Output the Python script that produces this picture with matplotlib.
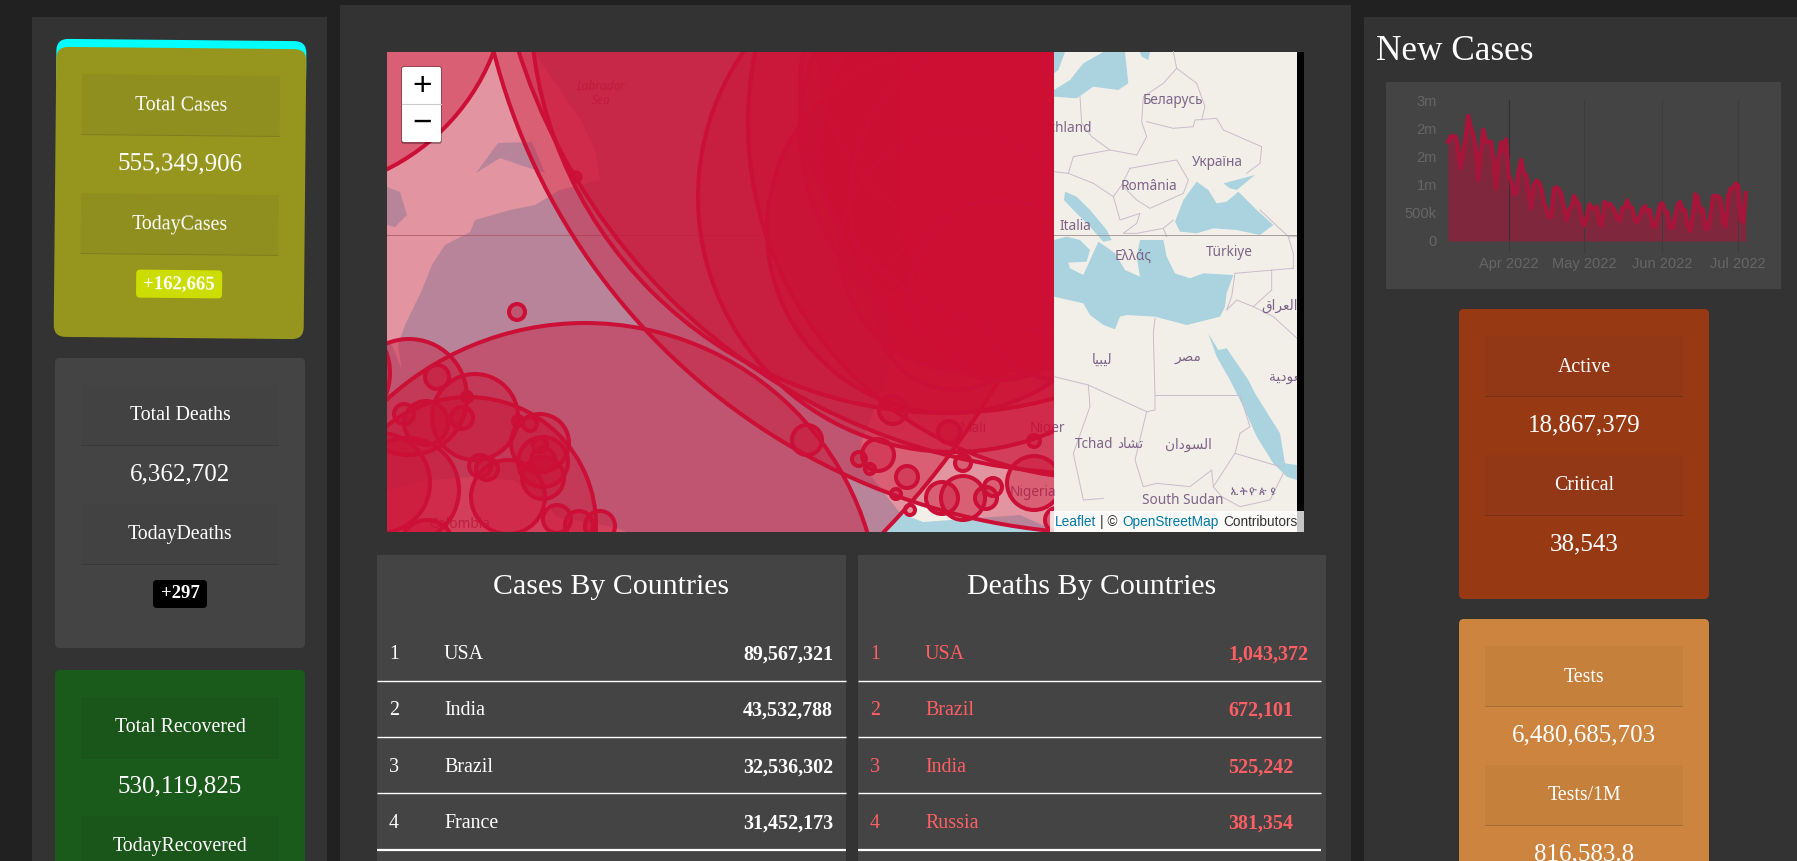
import matplotlib
matplotlib.use("Agg")
import matplotlib.pyplot as plt
import matplotlib.dates as mdates
from matplotlib import font_manager
from matplotlib.ft2font import FT2Font
from matplotlib.patches import Rectangle, Circle, Polygon, FancyBboxPatch
from matplotlib.transforms import Affine2D
import pandas as pd

SERIF = "Liberation Serif"
SANS = "Liberation Sans"
MAP_FONT = ["Noto Sans", "DejaVu Sans"]

# daily new cases, millions
new_cases = [1.76, 1.85, 1.86, 1.85, 1.67, 1.29, 1.56, 1.85, 2.22, 2.03, 1.88, 1.64, 1.08, 1.59, 1.97,
             1.76, 1.76, 1.76, 1.44, 0.93, 1.44, 1.75, 1.59, 1.80, 1.17, 1.08, 0.82, 0.85, 1.26, 1.44,
             1.20, 1.17, 0.85, 0.58, 0.99, 1.07, 1.05, 0.93, 0.67, 0.58, 0.42, 0.43, 0.93, 0.95, 0.91,
             0.82, 0.58, 0.37, 0.55, 0.61, 0.80, 0.70, 0.64, 0.37, 0.28, 0.43, 0.65, 0.59, 0.57, 0.61,
             0.31, 0.27, 0.69, 0.64, 0.66, 0.61, 0.54, 0.39, 0.36, 0.58, 0.59, 0.72, 0.61, 0.59, 0.37,
             0.33, 0.43, 0.56, 0.62, 0.52, 0.55, 0.27, 0.25, 0.43, 0.64, 0.67, 0.52, 0.51, 0.24, 0.24,
             0.43, 0.64, 0.69, 0.55, 0.54, 0.28, 0.18, 0.43, 0.83, 0.76, 0.52, 0.57, 0.22, 0.22, 0.43,
             0.79, 0.80, 0.79, 0.75, 0.34, 0.25, 0.79, 0.93, 0.93, 1.02, 0.98, 0.37, 0.34, 0.85]
dates = pd.date_range("2022-03-08", periods=len(new_cases))
y_ticks = [0, 0.5, 1, 1.5, 2, 2.5]
y_labels = ["0", "500k", "1m", "2m", "2m", "3m"]

# tables
ranks = ["1", "2", "3", "4"]
case_countries = ["USA", "India", "Brazil", "France"]
case_values = ["89,567,321", "43,532,788", "32,536,302", "31,452,173"]
death_countries = ["USA", "Brazil", "India", "Russia"]
death_values = ["1,043,372", "672,101", "525,242", "381,354"]

# map circles: x, y, radius
circle_x = [318, 290, 1114, 1097, 945, 953, 1104, 950, 955, 585, 468, 409, 437, 404, 426, 475, 462, 467, 518,
            540, 530, 540, 543, 543, 543, 480, 487, 508, 407, 380, 557, 579, 600, 427, 330, 576, 517,
            807, 893, 949, 1034, 878, 859, 870, 907, 896, 910, 963, 942, 963, 986, 993, 1034, 1057,
            1030, 1010, 1000, 1020, 960, 1000, 1040, 1060, 1040, 1000]
circle_y = [-15, -26, -106, -133, -2, 197, 123, 230, 310, 618, 525, 397, 377, 414, 423, 417, 418, 397, 421,
            443, 424, 445, 462, 460, 478, 466, 469, 497, 490, 483, 519, 525, 526, 547, 373, 177, 312,
            440, 410, 432, 441, 455, 459, 469, 477, 494, 510, 463, 498, 498, 498, 487, 483, 520,
            130, 150, 60, 200, 250, 330, 330, 300, 90, 290]
circle_r = [787, 218, 640, 607, 415, 255, 356, 183, 80, 295, 128, 58, 12, 10, 22, 43, 11, 5, 5,
            29, 7, 7, 25, 12, 21, 11, 11, 37, 52, 50, 14, 14, 15, 27, 60, 4.5, 8,
            15, 14, 11, 6, 16, 7, 5, 11, 5, 5, 8, 16, 22, 11, 9, 27, 12,
            230, 190, 180, 170, 120, 50, 30, 80, 240, 90]

# coast and borders
atlantic = [(534, 52), (560, 90), (581, 120), (595, 150), (600, 180), (560, 190), (535, 205), (510, 210), (475, 220),
            (470, 232), (445, 245), (432, 265), (422, 290), (405, 325), (398, 345), (402, 370), (392, 345),
            (387, 340), (387, 490), (430, 480), (470, 477), (513, 480), (540, 497), (557, 517), (613, 527),
            (627, 532), (1054, 532), (1047, 527), (1020, 515), (923, 522), (900, 513), (860, 462),
            (862, 440), (889, 373), (895, 350), (880, 300), (920, 280), (900, 230), (900, 52)]
st_lawrence = [(476, 173), (498, 143), (532, 142), (545, 173), (520, 165), (500, 158)]
great_lakes = [(387, 187), (400, 192), (407, 215), (395, 227), (387, 225)]
med_sea = [(42, 600), (80, 590), (120, 600), (150, 630), (140, 665), (85, 668), (90, 685), (130, 705), (145, 672),
           (175, 605), (205, 625), (225, 640), (255, 690), (300, 710), (290, 650), (300, 600), (370, 600),
           (380, 650), (405, 700), (450, 715), (490, 700), (580, 705), (560, 760), (555, 800), (540, 830),
           (500, 840), (440, 855), (345, 830), (260, 825), (240, 830), (225, 868), (190, 855), (150, 825),
           (130, 790), (42, 770)]
adriatic = [(75, 455), (110, 470), (150, 510), (200, 570), (215, 600), (190, 605), (150, 560), (100, 510), (72, 480)]
black_sea = [(405, 545), (430, 480), (470, 425), (505, 450), (530, 490), (560, 485), (595, 455), (650, 510),
             (700, 555), (660, 585), (590, 570), (520, 565), (470, 580), (420, 575)]
azov = [(550, 430), (645, 405), (590, 450), (570, 445)]
baltic = [(42, 150), (90, 120), (130, 70), (190, 36), (255, 36), (265, 130), (235, 150), (160, 140), (110, 175), (42, 170)]
kattegat = [(42, 36), (75, 36), (55, 90), (42, 100)]
gulf_riga = [(300, 36), (330, 36), (325, 60), (305, 50)]
red_sea = [(505, 880), (535, 930), (560, 925), (625, 1020), (645, 1060), (720, 1180), (735, 1270), (771, 1275),
           (771, 1320), (740, 1310), (700, 1270), (650, 1190), (610, 1100), (570, 1020), (530, 950)]
borders = [[(400, 35), (410, 85), (370, 130), (310, 170), (305, 245), (320, 290), (290, 345)],
           [(410, 85), (470, 130), (495, 200), (485, 240)],
           [(320, 245), (400, 265), (460, 260), (465, 240), (530, 235), (550, 270), (665, 320), (660, 370), (620, 400)],
           [(120, 170), (125, 250), (155, 290), (210, 330), (290, 345)],
           [(210, 330), (100, 350), (85, 400), (160, 430)],
           [(85, 400), (42, 395)],
           [(270, 385), (380, 365), (410, 360), (445, 420), (430, 460), (330, 505), (290, 480), (245, 435), (270, 385)],
           [(160, 430), (220, 470), (245, 435)],
           [(220, 470), (240, 540), (300, 520), (290, 550), (250, 580), (290, 580), (370, 565), (400, 540)],
           [(370, 565), (380, 590)],
           [(585, 700), (700, 690), (760, 685)],
           [(745, 590), (760, 640), (760, 685)],
           [(660, 510), (745, 590), (771, 590)],
           [(585, 700), (575, 770), (560, 810), (590, 780), (640, 800), (695, 750), (695, 690)],
           [(640, 800), (700, 830), (771, 895)],
           [(345, 835), (340, 880), (345, 1065), (345, 1110), (320, 1115)],
           [(345, 1065), (600, 1065)],
           [(320, 1115), (285, 1260), (310, 1340), (350, 1330), (450, 1340), (515, 1290), (520, 1340), (545, 1370)],
           [(145, 1035), (320, 1115)],
           [(42, 1010), (145, 1035), (150, 1100), (100, 1240), (130, 1380), (190, 1375)],
           [(520, 1340), (585, 1240), (600, 1180)],
           [(585, 1240), (720, 1280)],
           [(545, 1370), (600, 1400), (690, 1380), (730, 1300)],
           [(600, 1065), (630, 1160), (600, 1180)]]

place_names = ["Беларусь", "Україна", "România", "Italia", "Ελλάς", "Türkiye", "Deutschland",
               "\uFED5\uFE8D\uFEAE\uFECC\uFEDF\uFE8D", "\uFE8E\uFEF4\uFE92\uFEF4\uFEDF", "\uFEAE\uFEBC\uFEE3",
               "Tchad", "\uFEA9\uFE8E\uFEB8\uFE97", "\uFEE5\uFE8D\uFEA9\uFEEE\uFEB4\uFEDF\uFE8D",
               "South Sudan", "\uFE94\uFEF4\uFEA9\uFEEE\uFECC", "Mali", "Niger", "Nigeria", "Colombia"]
place_x = [1173, 1217, 1149, 1075, 1133, 1229, 1052, 1279, 1102, 1188, 1094, 1130, 1188, 1183, 1285, 973, 1047, 1033, 460]
place_y = [101, 162, 187, 226, 256, 253, 129, 306, 360, 357, 444, 444, 445, 500, 377, 428, 429, 492, 525]
ethiopia_name = "ኢትዮጵያ"


def tile(pts):
    return [(1040 + x / 3, 40 + y / 3) for x, y in pts]


def family_with_glyphs(text):
    # look for an installed font that really has these letters
    for entry in font_manager.fontManager.ttflist:
        try:
            charmap = FT2Font(entry.fname).get_charmap()
        except Exception:
            continue
        if all(ord(ch) in charmap for ch in text):
            return entry.name
    return None


fig = plt.figure(figsize=(17.97, 8.61), dpi=100, facecolor="#212121")
ax = fig.add_axes([0, 0, 1, 1])
ax.set_xlim(0, 1797)
ax.set_ylim(861, 0)
ax.axis("off")


def box(x0, y0, x1, y1, color, z=1, round_px=0, tr=None, alpha=None):
    style = f"round,pad=0,rounding_size={round_px}" if round_px else "square,pad=0"
    p = FancyBboxPatch((x0, y0), x1 - x0, y1 - y0, boxstyle=style, fc=color, ec="none", zorder=z, alpha=alpha)
    if tr is not None:
        p.set_transform(tr)
    ax.add_patch(p)
    return p


def label(x, y, s, size, color="white", weight="normal", ha="center", family=SERIF, z=6, **kw):
    return ax.text(x, y, s, fontsize=size, color=color, fontweight=weight, ha=ha, va="center",
                   family=family, zorder=z, **kw)


# panels
box(32, 17, 327, 870, "#333333")
box(340, 5, 1351, 870, "#333333")
box(1364, 17, 1797, 870, "#333333")


def card(x0, top, color, head, rule, titles, values, badge=None, badge_col=None, badge_hw=0, bottom=290,
         round_px=5, rot=0.0):
    cx, cy = x0 + 125, top + bottom / 2
    tr = Affine2D().rotate_deg_around(cx, cy, rot) + ax.transData
    box(x0, top, x0 + 250, top + bottom, color, 2, round_px, tr)

    def txt(y, s, size, weight="normal"):
        t = ax.text(cx, y, s, fontsize=size, color="white", fontweight=weight, ha="center", va="center",
                    family=SERIF, zorder=6, rotation=-rot, rotation_mode="anchor", transform=tr)
        return t

    for off, name in zip((27, 146), titles):
        box(x0 + 26, top + off, x0 + 224, top + off + 60, head, 3, 0, tr)
        box(x0 + 26, top + off + 60, x0 + 224, top + off + 61, rule, 3, 0, tr)
        txt(top + off + 31, name, 14.3)
    txt(top + 116, values[0], 18)
    if badge is not None:
        box(cx - badge_hw, top + 222, cx + badge_hw, top + 250, badge_col, 3, 4, tr)
        txt(top + 236, badge, 13.5, "bold")
    elif len(values) > 1:
        txt(top + 235, values[1], 18)
    return tr


# left column
tr1 = Affine2D().rotate_deg_around(180, 193, 0.55) + ax.transData
box(55, 40, 305, 90, "#00ffff", 1.5, 12, tr1)
card(55, 48, "#96961e", "#8f8f20", "#7d7d1e", ["Total Cases", "TodayCases"], ["555,349,906"],
     "+162,665", "#cbdd02", 43, round_px=12, rot=0.55)
card(55, 358, "#444444", "#424242", "#383838", ["Total Deaths", "TodayDeaths"], ["6,362,702"],
     "+297", "#000000", 27)
card(55, 670, "#1a5a1a", "#1a5519", "#1a4d18", ["Total Recovered", "TodayRecovered"], ["530,119,825"], bottom=300)

# right column
card(1459, 309, "#973a14", "#923816", "#7a3015", ["Active", "Critical"], ["18,867,379", "38,543"])
card(1459, 619, "#cc843f", "#c5803b", "#a86d32", ["Tests", "Tests/1M"], ["6,480,685,703", "816,583.8"], bottom=300)

# tables
box(377, 555, 846, 870, "#444444")
box(858, 555, 1326, 870, "#444444")
label(611.5, 587, "Cases By Countries", 21.5)
label(1092, 587, "Deaths By Countries", 21.5)
row_y = [654.5, 710.5, 767.5, 823.5]
rule_y = [681, 737, 793, 850]
for i in range(4):
    label(389, row_y[i], ranks[i], 14.4, ha="left")
    label(444, row_y[i], case_countries[i], 14.4, ha="left")
    label(833, row_y[i], case_values[i], 14.4, weight="bold", ha="right")
    label(870, row_y[i], ranks[i], 14.4, color="#ff5f63", ha="left")
    label(925, row_y[i], death_countries[i], 14.4, color="#ff5f63", ha="left")
    label(1228, row_y[i], death_values[i], 14.4, color="#ff5f63", weight="bold", ha="left")
    lw = 1.0 if i < 3 else 1.6
    ax.plot([377, 846], [rule_y[i]] * 2, color="white", lw=lw, zorder=5, solid_capstyle="butt")
    ax.plot([858, 1321], [rule_y[i]] * 2, color="white", lw=lw, zorder=5, solid_capstyle="butt")

# map base
map_clip = Rectangle((387, 52), 910, 480, transform=ax.transData)
box(387, 52, 1297, 532, "#f2efe9", 2)
SEA = "#aad3df"
for pts in [atlantic, st_lawrence, great_lakes]:
    ax.add_patch(Polygon(pts, fc=SEA, ec="none", zorder=2.1, clip_path=map_clip))
for pts in [med_sea, adriatic, black_sea, azov, baltic, kattegat, gulf_riga, red_sea]:
    ax.add_patch(Polygon(tile(pts), fc=SEA, ec="none", zorder=2.1, clip_path=map_clip))
for line in borders:
    xs, ys = zip(*tile(line))
    ax.plot(xs, ys, color="#c9bccb", lw=0.7, zorder=2.2)
ax.plot([387, 1297], [235, 235], color="#9a8f90", lw=0.6, zorder=2.3)

for n, px, py in zip(place_names, place_x, place_y):
    t = label(px, py, n, 9.8, color="#7e6387", family=MAP_FONT, z=2.4)
    t.set_clip_path(map_clip)
ethiopic_family = family_with_glyphs(ethiopia_name)
if ethiopic_family:
    label(1254, 492, ethiopia_name, 7, color="#7e6387", family=[ethiopic_family], z=2.4)
label(601, 86, "Labrador", 8.5, color="#8a6a7f", family=MAP_FONT, z=2.4, style="italic")
label(601, 101, "Sea", 8.5, color="#8a6a7f", family=MAP_FONT, z=2.4, style="italic")

# case circles, only drawn left of x=1054 like the svg layer in the page
circle_clip = Rectangle((387, 52), 667, 480, transform=ax.transData)
for cx, cy, r in zip(circle_x, circle_y, circle_r):
    c = Circle((cx, cy), r, fc=(0.80, 0.06, 0.20, 0.40), ec=(0.80, 0.06, 0.21, 1.0), lw=2.9, zorder=3)
    ax.add_patch(c)
    c.set_clip_path(circle_clip)

# black strip and leaflet controls
box(1297, 52, 1304, 532, "#000000", 3.2)
box(1050, 511, 1304, 532, "white", 3.3, alpha=0.78)
box(401, 66, 442, 144, "#000000", 3.4, 3, alpha=0.3)
box(402, 67, 441, 142, "white", 3.5, 2)
ax.plot([402, 441], [104, 104], color="#cccccc", lw=0.8, zorder=3.6)
label(422, 86, "+", 24, color="black", family=SANS, z=3.7)
label(422, 123, "\u2212", 24, color="black", family=SANS, z=3.7)
label(1055, 522, "Leaflet", 9.8, color="#0078a8", ha="left", family=SANS)
label(1100, 522, "| ©", 9.8, color="#333333", ha="left", family=SANS)
label(1122, 522, "OpenStreetMap", 9.8, color="#0078a8", ha="left", family=SANS)
label(1223, 522, "Contributors", 9.8, color="#333333", ha="left", family=SANS)

# new cases chart
label(1376, 51, "New Cases", 25.3, ha="left")
box(1386, 82, 1781, 289, "#444444")
W, H = 1797, 861
chart = fig.add_axes([1448 / W, 1 - 241 / H, (1747 - 1448) / W, (241 - 100) / H], facecolor="none")
chart.fill_between(dates, new_cases, 0, color="#a5173a", alpha=0.62, lw=0)
chart.plot(dates, new_cases, color="#a8153a", lw=3.1, solid_joinstyle="round", clip_on=False)
chart.set_xlim(dates[0], dates[-1] + pd.Timedelta(days=0.5))
chart.set_ylim(0, 2.5)
chart.set_yticks(y_ticks)
chart.set_yticklabels(y_labels)
chart.xaxis.set_major_locator(mdates.MonthLocator())
chart.xaxis.set_major_formatter(mdates.DateFormatter("%b %Y"))
chart.grid(axis="x", color="#3c3c3c", lw=0.8)
chart.get_xgridlines()[0].set_color("#303030")
chart.tick_params(axis="x", length=8.5, width=0.8, color="#3c3c3c", pad=3, labelcolor="#666666", labelsize=10.5)
chart.tick_params(axis="y", length=0, pad=8, labelcolor="#666666", labelsize=10.5)
for lab in chart.get_xticklabels() + chart.get_yticklabels():
    lab.set_family(SANS)
for s in chart.spines.values():
    s.set_visible(False)

fig.savefig("out.png", dpi=100, facecolor=fig.get_facecolor())
